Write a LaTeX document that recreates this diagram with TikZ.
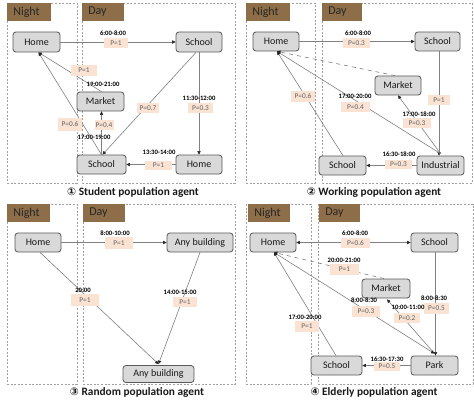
\documentclass[tikz,border=0pt]{standalone}
\usepackage{fontspec}
\setmainfont{Carlito}
\newfontfamily\dejavu{DejaVu Sans}
\usetikzlibrary{arrows.meta,calc}
\definecolor{nodefill}{HTML}{D9D9D9}
\definecolor{nodeline}{HTML}{595959}
\definecolor{peach}{HTML}{FBE3D3}
\definecolor{brownlbl}{HTML}{8E6E48}
\definecolor{edgegray}{HTML}{808080}
\definecolor{dashgray}{HTML}{A0A0A0}
\tikzset{
  >={Triangle[length=2.6pt,width=2.4pt,color=black!85]},
  agent/.style={draw=nodeline, fill=nodefill, rounded corners=2.2pt, line width=0.6pt,
    font=\fontsize{7.5}{9}\selectfont, text=black!90, inner sep=0pt},
  sz/.style 2 args={minimum width=#1*0.75pt, minimum height=#2*0.75pt},
  prob/.style={fill=peach, inner sep=0pt, font=\fontsize{5.5}{6.5}\selectfont, text=black!62},
  tlabel/.style={font=\bfseries\fontsize{5}{6}\selectfont, inner sep=0pt, text=black},
  link/.style={draw=edgegray, line width=0.45pt, ->},
  region/.style={draw=dashgray, dash pattern=on 1.5pt off 1.2pt, line width=0.5pt},
  tag/.style={fill=brownlbl, anchor=north west, inner xsep=4.5pt, inner ysep=0pt,
    minimum height=13pt, text width=#1, font=\fontsize{9}{10}\selectfont, text=black!85},
  caption/.style={font=\bfseries\fontsize{8.5}{10}\selectfont, inner sep=0pt, text=black!90}
}
\begin{document}
\begin{tikzpicture}[x=0.75pt,y=-0.75pt]
\path[use as bounding box, fill=white] (0,0) rectangle (474,417);

% ---------------- Panel 1 ----------------
\draw[region] (7,3) rectangle (77,183);
\draw[region] (82,3) rectangle (235,183);
\node[tag=24pt] (a1night) at (7,3) {Night};
\node[tag=22.5pt] (a1day) at (82,3) {Day};
\node[agent, sz={47}{20}] (a1home) at (36.5,42) {Home};
\node[agent, sz={46}{20}] (a1sch) at (199,42) {School};
\node[agent, sz={47}{19}] (a1mkt) at (100.5,101.5) {Market};
\node[agent, sz={49}{19}] (a1schb) at (101.5,164.5) {School};
\node[agent, sz={46}{19}] (a1home2) at (199,164.5) {Home};
\draw[link] (a1home) -- (a1sch);
\draw[link] (a1sch) -- (a1home2);
\draw[link] (a1home2) -- (a1schb);
\draw[link] ($(a1sch.south)+(-3,0)$) -- ($(a1schb.north)+(1,0)$);
\draw[link] (a1schb.north) -- (a1schb.north |- a1mkt.south);
\draw[link] (a1schb.north) -- ($(a1home.south)+(2,0)$);
\draw[link] ($(a1mkt.north)+(1,0)$) -- ($(a1home.south)+(2,0)$);
\node[prob, sz={24}{10}] (a1p1) at (116,43) {P=1};
\node[tlabel] (a1t1) at (113,33) {6:00-8:00};
\node[prob, sz={25}{10}] (a1p2) at (200.5,108) {P=0.3};
\node[tlabel] (a1t2) at (199,98) {11:30-12:00};
\node[prob, sz={27}{9}] (a1p3) at (158.5,165) {P=1};
\node[tlabel] (a1t3) at (159,152) {13:30-14:00};
\node[prob, sz={22}{10}] (a1p4) at (148,108) {P=0.7};
\node[prob, sz={19}{10}] (a1p5) at (104,125) {P=0.4};
\node[tlabel] (a1t5) at (94,137) {17:00-19:00};
\node[prob, sz={24}{13}] (a1p6) at (70,124.5) {P=0.6};
\node[prob, sz={26}{11}] (a1p7) at (84,70.5) {P=1};
\node[tlabel] (a1t7) at (103,84) {19:00-21:00};
\node[caption] (a1cap) at (133,192) {{\dejavu\fontsize{8}{10}\selectfont ①} Student population agent};

% ---------------- Panel 2 ----------------
\draw[region] (246,3) rectangle (315,183);
\draw[region] (322,3) rectangle (472,183);
\node[tag=24pt] (a2night) at (246,3) {Night};
\node[tag=21pt] (a2day) at (322,3) {Day};
\node[agent, sz={46}{19}] (a2home) at (276,41.5) {Home};
\node[agent, sz={45}{19}] (a2sch) at (437.5,41.5) {School};
\node[agent, sz={46}{19}] (a2mkt) at (398,85.5) {Market};
\node[agent, sz={47}{19}] (a2schb) at (342.5,165.5) {School};
\node[agent, sz={47}{19}] (a2ind) at (440.5,165.5) {Industrial};
\draw[link] (a2home) -- (a2sch);
\draw[link] ($(a2sch.south)+(1.5,0)$) -- ($(a2ind.north)+(-1.5,0)$);
\draw[link] (a2ind) -- (a2schb);
\draw[link] ($(a2ind.north)+(0,-2)$) -- (a2mkt.south);
\draw[link] ($(a2ind.north)+(0,-2)$) -- ($(a2home.south)+(1,0)$);
\draw[link, dashed] ($(a2mkt.north)+(-3,0)$) -- ($(a2home.south)+(1,0)$);
\draw[link] ($(a2schb.north)+(0.5,0)$) -- ($(a2home.south)+(1,0)$);
\node[prob, sz={27}{10}] (a2p1) at (356.5,43) {P=0.3};
\node[tlabel] (a2t1) at (358,33) {6:00-8:00};
\node[prob, sz={22}{10}] (a2p2) at (439,100) {P=1};
\node[prob, sz={27}{9}] (a2p3) at (398.5,164.5) {P=0.3};
\node[tlabel] (a2t3) at (399,154) {16:30-18:00};
\node[prob, sz={28}{10}] (a2p4) at (417,123) {P=0.3};
\node[tlabel] (a2t4) at (419,114) {17:00-18:00};
\node[prob, sz={29}{10}] (a2p5) at (355.5,107) {P=0.4};
\node[tlabel] (a2t5) at (355,96) {17:00-20:00};
\node[prob, sz={24}{11}] (a2p6) at (303,96.5) {P=0.6};
\node[caption] (a2cap) at (374,192) {{\dejavu\fontsize{8}{10}\selectfont ②} Working population agent};

% ---------------- Panel 3 ----------------
\draw[region] (7,204) rectangle (77,384);
\draw[region] (83,204) rectangle (235,384);
\node[tag=23pt] (a3night) at (7,204) {Night};
\node[tag=22.5pt] (a3day) at (83,204) {Day};
\node[agent, sz={46}{19}] (a3home) at (38,242.5) {Home};
\node[agent, sz={66}{19}] (a3any) at (200,242.5) {Any building};
\node[agent, sz={71}{17}] (a3anyb) at (158.5,374) {Any building};
\draw[link] (a3home) -- (a3any);
\draw[link] ($(a3home.south)+(2,0)$) -- ($(a3anyb.north)+(0,-1)$);
\draw[link] (a3any.south) -- ($(a3anyb.north)+(0,-1)$);
\node[prob, sz={28}{12}] (a3p1) at (119,243) {P=1};
\node[tlabel] (a3t1) at (115,233) {8:00-10:00};
\node[prob, sz={28}{12}] (a3p2) at (85,300) {P=1};
\node[tlabel] (a3t2) at (83,290) {20:00};
\node[prob, sz={24}{10}] (a3p3) at (185,302) {P=1};
\node[tlabel] (a3t3) at (180,292) {14:00-15:00};
\node[caption] (a3cap) at (137,392) {{\dejavu\fontsize{8}{10}\selectfont ③} Random population agent};

% ---------------- Panel 4 ----------------
\draw[region] (246,204) rectangle (311,384);
\draw[region] (318,204) rectangle (473,384);
\node[tag=22.5pt] (a4night) at (248,204) {Night};
\node[tag=21.5pt] (a4day) at (319,204) {Day};
\node[agent, sz={46}{19}] (a4home) at (273,242.5) {Home};
\node[agent, sz={47}{19}] (a4sch) at (434.5,242.5) {School};
\node[agent, sz={48}{19}] (a4mkt) at (386,288.5) {Market};
\node[agent, sz={51}{19}] (a4schb) at (336.5,365.5) {School};
\node[agent, sz={47}{19}] (a4park) at (434.5,365.5) {Park};
\draw[link, <->] (a4home) -- (a4sch);
\draw[link] ($(a4sch.south)+(1,0)$) -- ($(a4park.north)+(1,0)$);
\draw[link] (a4park) -- (a4schb);
\draw[link] ($(a4park.north)+(0,-2)$) -- ($(a4mkt.south)+(1,1)$);
\draw[link] ($(a4home.south)+(1,0)$) -- ($(a4park.north)+(0,-2)$);
\draw[link, dashed] ($(a4mkt.north)+(-2,0)$) -- ($(a4home.south)+(1,0)$);
\draw[link] ($(a4schb.north)+(-0.5,0)$) -- ($(a4home.south)+(1,0)$);
\node[prob, sz={29}{10}] (a4p1) at (355.5,243) {P=0.6};
\node[tlabel] (a4t1) at (355,233) {6:00-8:00};
\node[prob, sz={25}{11}] (a4p2) at (436.5,308.5) {P=0.5};
\node[tlabel] (a4t2) at (434,298) {8:00-8:30};
\node[prob, sz={26}{9}] (a4p3) at (387,366.5) {P=0.5};
\node[tlabel] (a4t3) at (387,359) {16:30-17:30};
\node[prob, sz={26}{10}] (a4p4) at (407,318) {P=0.2};
\node[tlabel] (a4t4) at (408,307) {10:00-11:00};
\node[prob, sz={28}{11}] (a4p5) at (366,311.5) {P=0.3};
\node[tlabel] (a4t5) at (364,300) {8:00-8:30};
\node[prob, sz={29}{11}] (a4p6) at (344.5,269.5) {P=1};
\node[tlabel] (a4t6) at (344,260) {20:00-21:00};
\node[prob, sz={24}{11}] (a4p7) at (307,326.5) {P=1};
\node[tlabel] (a4t7) at (305,317) {17:00-20:00};
\node[caption] (a4cap) at (374,392) {{\dejavu\fontsize{8}{10}\selectfont ④} Elderly population agent};
\end{tikzpicture}
\end{document}
